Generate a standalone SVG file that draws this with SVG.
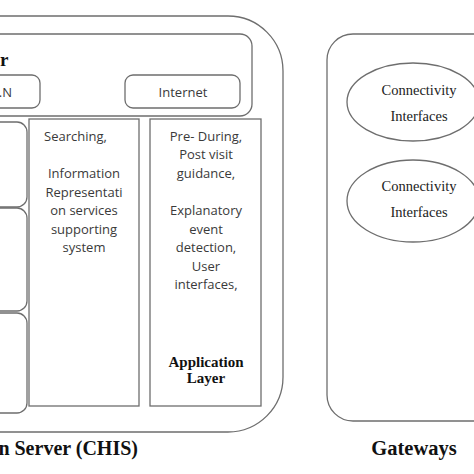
<svg xmlns="http://www.w3.org/2000/svg" width="474" height="474" viewBox="0 0 474 474">
<style>
.box{fill:none;stroke:#6e6e6e;stroke-width:1.3}
.s{font-family:"Open Sans","Liberation Sans",sans-serif;font-size:13px;fill:#3a3a3a}
.c{text-anchor:middle}
.b{font-family:"Liberation Serif","Times New Roman",serif;font-weight:bold;fill:#111}
.ser{font-family:"Liberation Serif","Times New Roman",serif;font-size:14.5px;fill:#222;text-anchor:middle}
</style>
<rect width="474" height="474" fill="#fff"/>
<g id="chis">
<rect class="box" x="-60" y="16" width="343" height="416" rx="55"/>
<text class="b" x="138" y="455" font-size="20" text-anchor="end">n Server (CHIS)</text>
</g>
<g id="network-layer">
<rect class="box" x="-40" y="34" width="292" height="82" rx="12"/>
<text class="b" x="0" y="66" font-size="19">r</text>
</g>
<g id="lan">
<rect class="box" x="-40" y="75" width="80" height="33" rx="8"/>
<text class="s" x="12" y="97" text-anchor="end">.N</text>
</g>
<g id="internet">
<rect class="box" x="125" y="75" width="115" height="33" rx="8"/>
<text class="s c" x="183" y="97">Internet</text>
</g>
<g id="left1"><rect class="box" x="-30" y="122" width="57" height="85" rx="10"/></g>
<g id="left2"><rect class="box" x="-30" y="208" width="57" height="103" rx="10"/></g>
<g id="left3"><rect class="box" x="-30" y="313" width="57" height="100" rx="10"/></g>
<g id="searching">
<rect class="box" x="29" y="119" width="110" height="287"/>
<text class="s" x="44" y="141">Searching,</text>
<text class="s c" x="84" y="178">Information</text>
<text class="s c" x="84" y="197">Representati</text>
<text class="s c" x="84" y="215">on services</text>
<text class="s c" x="84" y="234">supporting</text>
<text class="s c" x="84" y="252">system</text>
</g>
<g id="application">
<rect class="box" x="150" y="119" width="111" height="287"/>
<text class="s c" x="206" y="141">Pre- During,</text>
<text class="s c" x="206" y="159">Post visit</text>
<text class="s c" x="206" y="178">guidance,</text>
<text class="s c" x="206" y="215">Explanatory</text>
<text class="s c" x="206" y="234">event</text>
<text class="s c" x="206" y="252">detection,</text>
<text class="s c" x="206" y="271">User</text>
<text class="s c" x="206" y="289">interfaces,</text>
<text class="b c" x="206" y="367" font-size="15">Application</text>
<text class="b c" x="206" y="383" font-size="15">Layer</text>
</g>
<g id="gateways">
<rect class="box" x="327" y="34" width="200" height="387" rx="26"/>
<text class="b c" x="414" y="455" font-size="20.5">Gateways</text>
</g>
<g id="conn1">
<ellipse class="box" cx="413" cy="102" rx="66" ry="39"/>
<text class="ser" x="419" y="95">Connectivity</text>
<text class="ser" x="419" y="121">Interfaces</text>
</g>
<g id="conn2">
<ellipse class="box" cx="413" cy="201" rx="66" ry="41"/>
<text class="ser" x="419" y="191">Connectivity</text>
<text class="ser" x="419" y="217">Interfaces</text>
</g>
<g id="connectors"></g>
</svg>
